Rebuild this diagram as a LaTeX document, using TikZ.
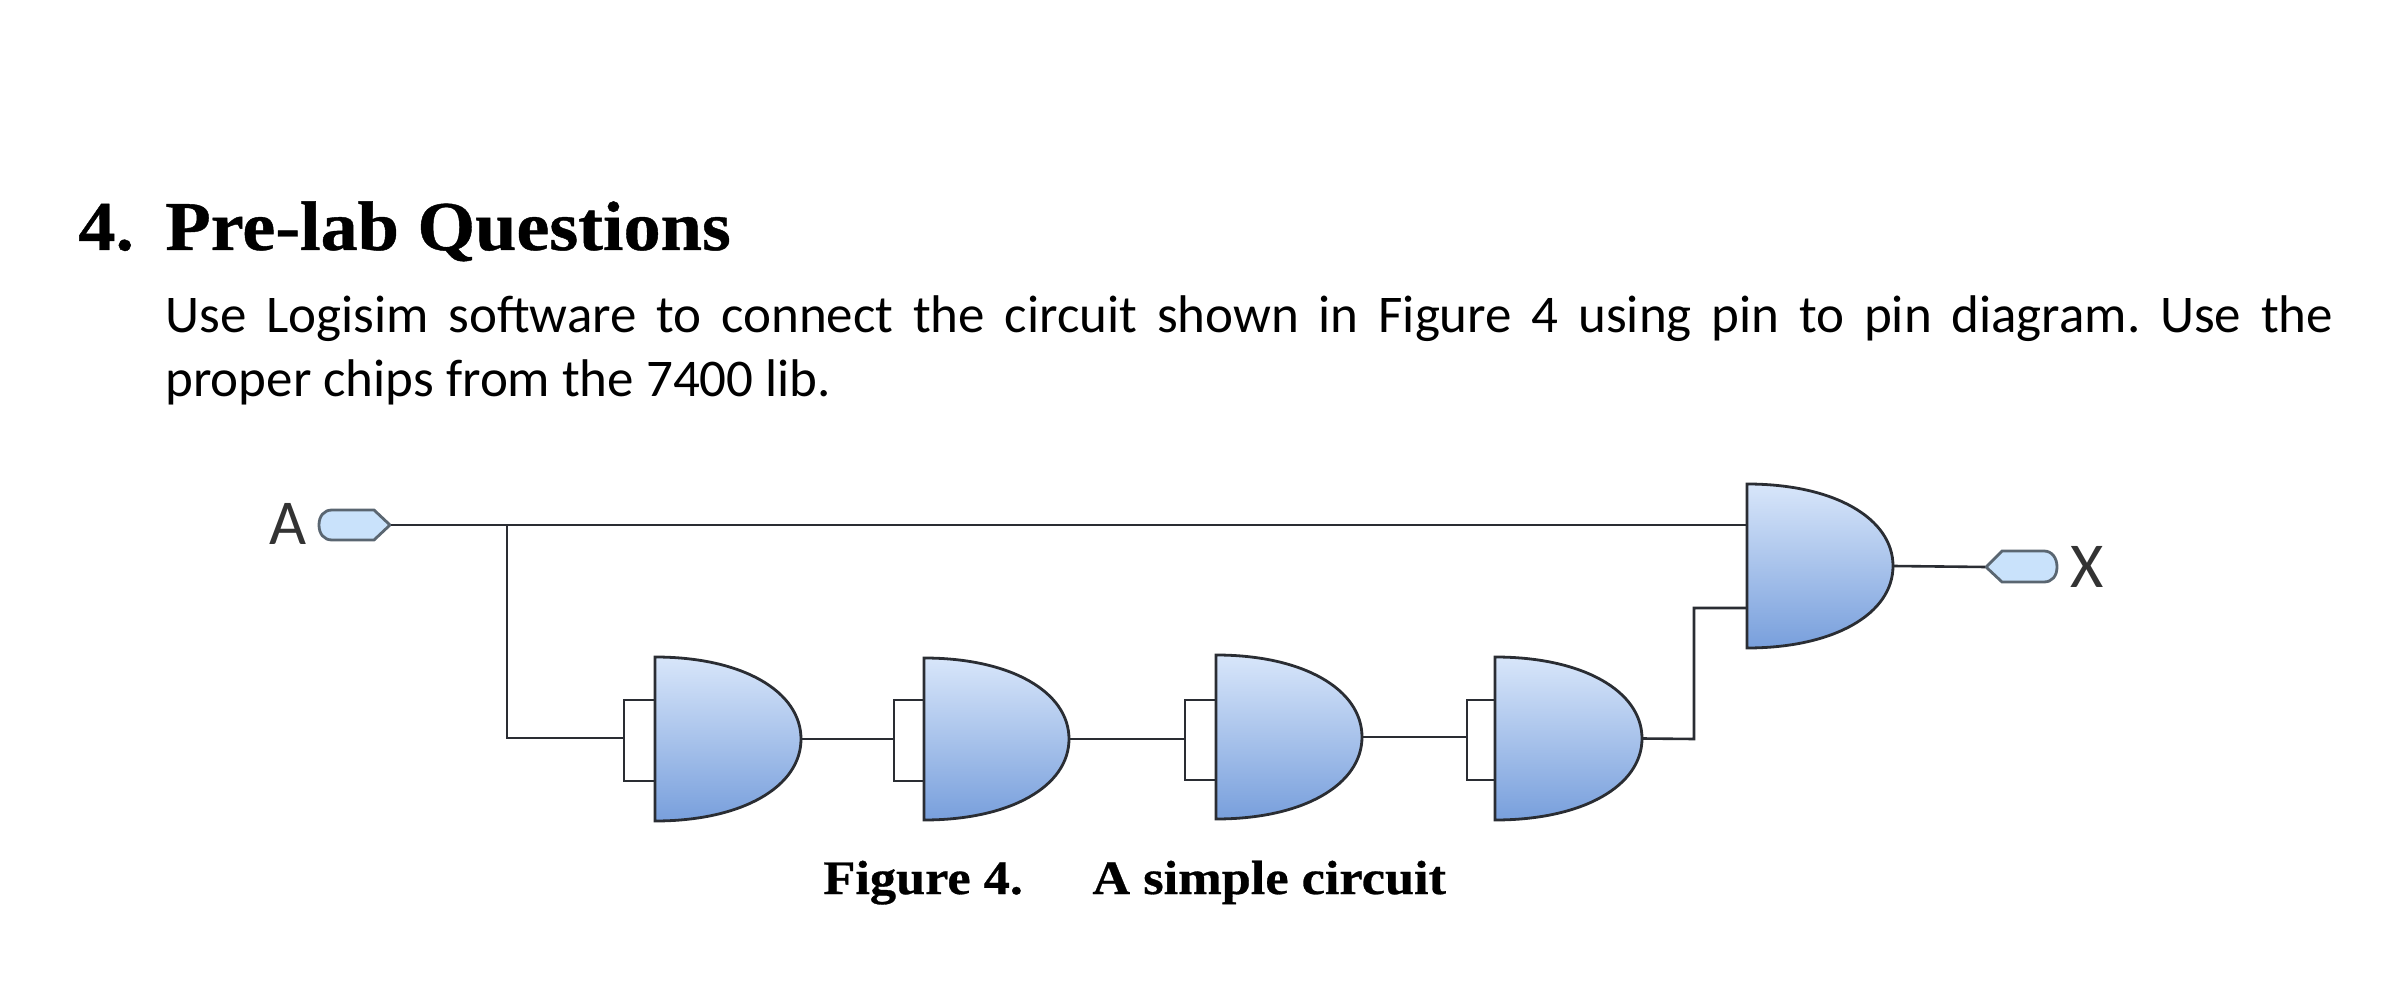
\documentclass[tikz,border=0pt]{standalone}
\usepackage{fontspec}
\setmainfont{Carlito}
\newfontfamily\headfont{Liberation Serif Bold}[FakeStretch=1.06,FakeBold=0.6]
\newfontfamily\capfont{Liberation Serif Bold}[FakeStretch=1.09,FakeBold=0.6]
\usetikzlibrary{calc}
\definecolor{wirec}{HTML}{2A2D33}
\definecolor{pinfill}{HTML}{C9E2FB}
\definecolor{gatetop}{HTML}{D8E6FA}
\definecolor{gatebot}{HTML}{789FDC}
\tikzset{
  wire/.style={draw=wirec,line width=1.3pt,line join=miter},
  gatebox/.style={inner sep=0pt,outer sep=0pt,draw=none,fill=none},
  gateline/.style={draw=wirec,line width=1.4pt,top color=gatetop,bottom color=gatebot,shading angle=0},
  pinline/.style={draw=black!55!pinfill,line width=1.4pt,fill=pinfill},
  pinlabel/.style={font=\fontsize{32}{32}\selectfont,text=black!80,inner sep=0pt,anchor=base},
  heading/.style={inner sep=0pt,anchor=base west,font=\headfont\fontsize{35}{35}\selectfont},
  captiontext/.style={inner sep=0pt,anchor=base west,font=\capfont\fontsize{24}{24}\selectfont},
}
% name, left, top, right, bottom (in pixels)
\newcommand{\andgate}[5]{%
  \node[gatebox,minimum width={(#4-#2)*0.5pt},minimum height={(#5-#3)*0.5pt}] (#1) at ({(#2+#4)/2},{(#3+#5)/2}) {};
  \path[gateline] (#1.north west)
    .. controls ($(#1.north west)!.60!(#1.north east)$) and ($(#1.north east)!.42!(#1.east)$) .. (#1.east)
    .. controls ($(#1.south east)!.42!(#1.east)$) and ($(#1.south west)!.60!(#1.south east)$) .. (#1.south west)
    -- cycle;
}
\begin{document}
\begin{tikzpicture}[x=0.5pt,y=-0.5pt]
\useasboundingbox (0,0) rectangle (2394,994);
% text
\node[heading] (h4) at (78,250) {4.};
\node[heading] (ht) at (165,250) {Pre-lab Questions};
\node[inner sep=0pt,anchor=base west,text width=1084pt,align=justify,font=\fontsize{26.5}{32}\selectfont] (body) at (165,333)
 {\frenchspacing Use Logisim software to connect the circuit shown in Figure 4 using pin to pin diagram. Use the\linebreak proper chips from the 7400 lib.};
\node[captiontext] (c1) at (823,894) {Figure 4.};
\node[captiontext] (c2) at (1092,894) {A simple circuit};
% gates
\andgate{g1}{655}{657}{801}{821}
\andgate{g2}{924}{658}{1069}{820}
\andgate{g3}{1216}{655}{1362}{819}
\andgate{g4}{1495}{657}{1642}{820}
\andgate{g5}{1747}{484}{1893}{648}
% input brackets
\coordinate (b1t) at (624,700); \coordinate (b1b) at (624,781); \coordinate (b1m) at (624,738);
\coordinate (b2t) at (894,700); \coordinate (b2b) at (894,781);
\coordinate (b3t) at (1185,700); \coordinate (b3b) at (1185,780);
\coordinate (b4t) at (1467,700); \coordinate (b4b) at (1467,780);
\draw[wire] (g1.west|-b1t) -- (b1t) -- (b1b) -- (g1.west|-b1b);
\draw[wire] (g2.west|-b2t) -- (b2t) -- (b2b) -- (g2.west|-b2b);
\draw[wire] (g3.west|-b3t) -- (b3t) -- (b3b) -- (g3.west|-b3b);
\draw[wire] (g4.west|-b4t) -- (b4t) -- (b4b) -- (g4.west|-b4b);
% pins
\node[gatebox] (pinA) at (390,525) {};
\path[pinline] (374,510) -- (pinA.center) -- (374,540) -- (332,540)
  .. controls (324,540) and (319,534) .. (319,525)
  .. controls (319,516) and (324,510) .. (332,510) -- cycle;
\node[gatebox] (pinX) at (1986,567) {};
\path[pinline] (2002,551) -- (pinX.center) -- (2002,582) -- (2044,582)
  .. controls (2052,582) and (2057,576) .. (2057,567)
  .. controls (2057,558) and (2052,551) .. (2044,551) -- cycle;
\node[pinlabel] (la) at (288,545) {A};
\node[pinlabel] (lx) at (2087,587) {X};
% wires
\coordinate (ga) at (1747,525);
\coordinate (br) at (507,525);
\coordinate (g4in) at (1747,608);
\coordinate (turn) at (1694,739);
\draw[wire] (pinA) -- (ga);
\draw[wire] (br) -- (b1m -| br) -- (b1m);
\draw[wire] (g1.east) -- (g1.east -| b2t);
\draw[wire] (g2.east) -- (g2.east -| b3t);
\draw[wire] (g3.east) -- (g3.east -| b4t);
\draw[wire] (g4.east) -- (turn) -- (turn |- g4in) -- (g4in);
\draw[wire] (g5.east) -- (pinX);
\end{tikzpicture}
\end{document}
